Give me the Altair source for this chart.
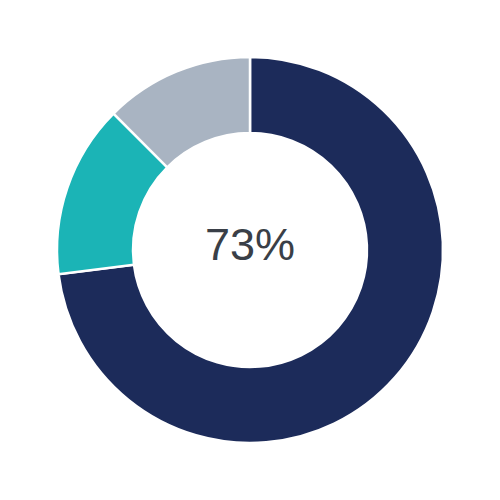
import pandas as pd
import altair as alt

categories = ["A", "B", "C"]
shares = [73, 14.5, 12.5]
colors = ["#1C2B5A", "#1BB4B6", "#A9B4C2"]
center_label = "73%"

df = pd.DataFrame({"category": categories, "share": shares, "rank": [0, 1, 2]})

donut = alt.Chart(df).mark_arc(
    innerRadius=117, outerRadius=193, stroke="white", strokeWidth=2.5
).encode(
    theta=alt.Theta("share:Q", stack=True),
    order=alt.Order("rank:Q"),
    color=alt.Color("category:N",
                    scale=alt.Scale(domain=categories, range=colors),
                    legend=None),
)

label = alt.Chart(pd.DataFrame({"t": [center_label]})).mark_text(
    font="Liberation Sans", fontSize=45, color="#3A3F47",
    align="center", baseline="middle"
).encode(text="t:N", x=alt.value(242), y=alt.value(238))

chart = (donut + label).properties(
    width=484, height=484, padding=0, autosize="none"
).configure_view(stroke=None)

chart.save("out.html", embed_options={"renderer": "svg", "actions": False})
